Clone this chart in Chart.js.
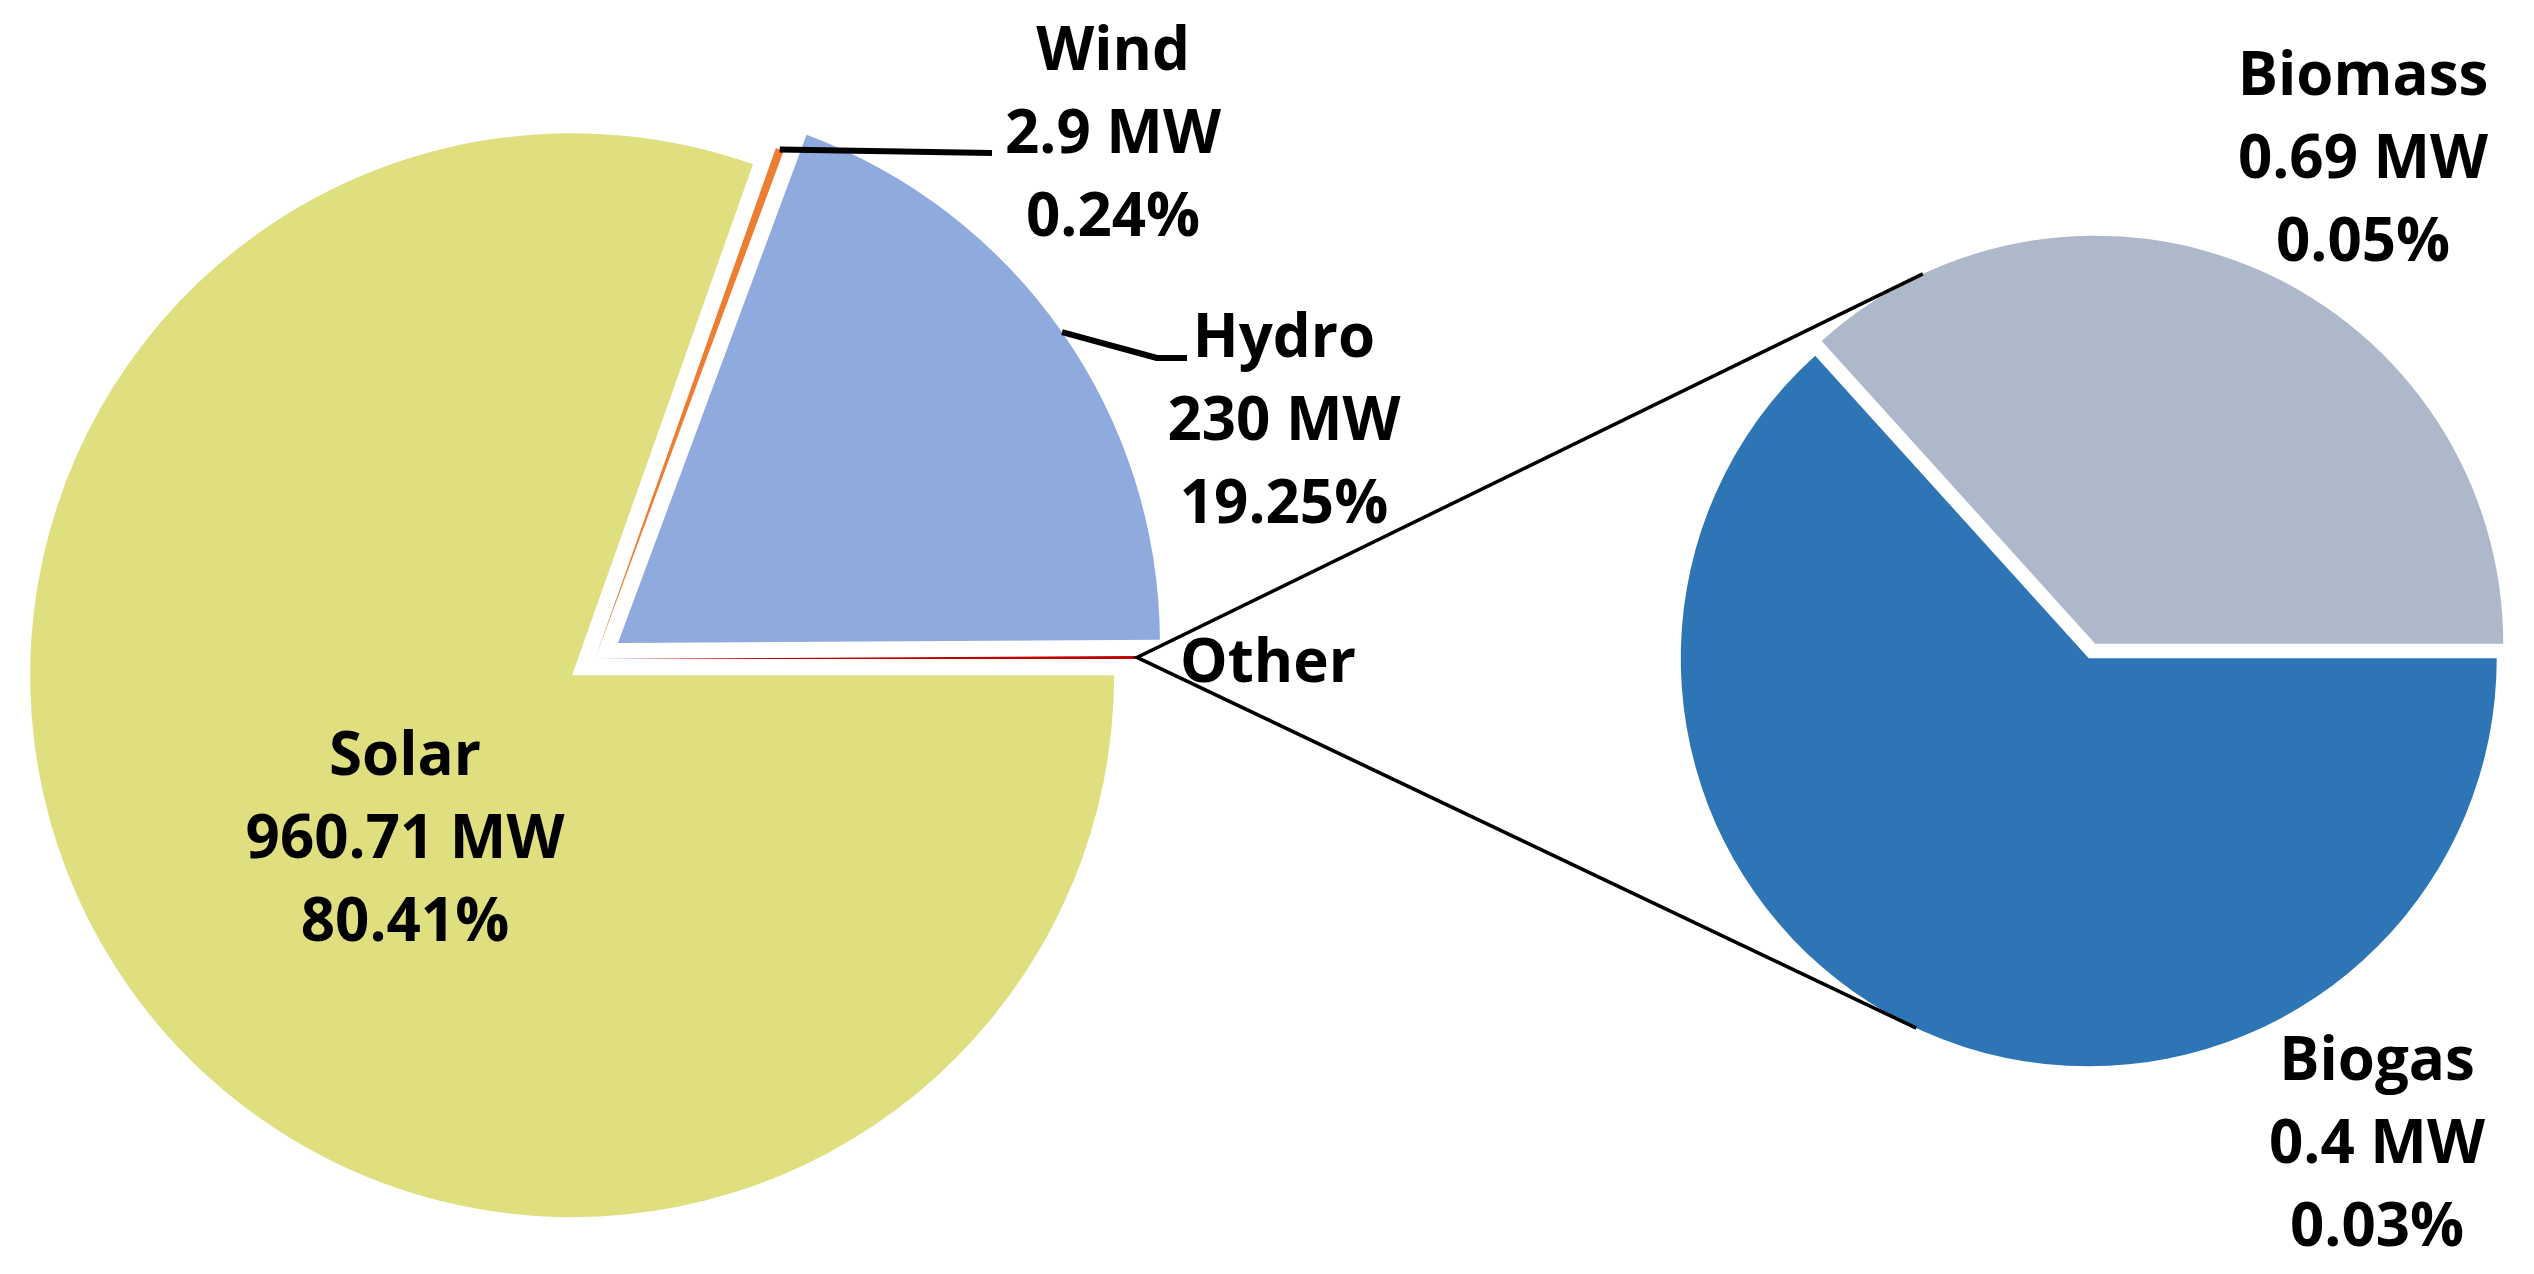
<!DOCTYPE html>
<html>
<head>
<meta charset="utf-8">
<script src="https://cdn.jsdelivr.net/npm/chart.js@4.4.1/dist/chart.umd.min.js"></script>
<style>
  html, body { margin: 0; padding: 0; background: #fff; overflow: hidden; }
  .layer { position: absolute; left: 0; top: 0; width: 2534px; height: 1274px; }
</style>
</head>
<body>
<div class="layer"><canvas id="mainPie" width="2534" height="1274"></canvas></div>
<div class="layer"><canvas id="otherPie" width="2534" height="1274"></canvas></div>
<script>
// capacity by source, MW
const mainNames = ['Solar', 'Wind', 'Hydro', 'Other'];
const mainValues = [960.71, 2.9, 230, 1.09];
const mainPercents = ['80.41%', '0.24%', '19.25%', ''];

// breakdown of "Other"
const otherNames = ['Biomass', 'Biogas'];
const otherValues = [0.69, 0.4];
const otherPercents = ['0.05%', '0.03%'];

const mainColors = ['#DFDF80', '#ED7D31', '#8FAADC', '#C00000'];
const otherColors = ['#2E75B6', '#ADB9CA'];

// how far each slice is pulled out, px
const mainExplode = [28, 0, 28, 0];
const otherExplode = [8, 8];

// label anchors: centre x, first baseline y
const mainLabelPos = [[405, 775], [1113, 70], [1284, 357], [1268, 682]];
const otherLabelPos = [[2363, 95], [2377, 1080]];
const lineStep = 83;
const labelFont = "bold 60px 'Open Sans', 'Noto Sans', sans-serif";

// leader line ends (from slice tip)
const leaderEnds = { 1: [[992, 153]], 2: [[1157, 358], [1187, 358]] };

const explodePlugin = {
    id: 'explode',
    beforeDatasetsDraw(chart) {
        const a = chart.chartArea;
        const cx = (a.left + a.right) / 2;
        const cy = (a.top + a.bottom) / 2;
        const pull = chart.config.options.plugins.explode.px;
        chart.getDatasetMeta(0).data.forEach((arc, i) => {
            const mid = (arc.startAngle + arc.endAngle) / 2;
            const d = pull[i] || 0;
            arc.x = cx + Math.cos(mid) * d;
            arc.y = cy + Math.sin(mid) * d;
        });
    }
};

function drawLabels(ctx, names, values, percents, pos) {
    ctx.save();
    ctx.font = labelFont;
    ctx.fillStyle = '#000';
    ctx.textAlign = 'center';
    ctx.textBaseline = 'alphabetic';
    names.forEach((name, i) => {
        const lines = [name];
        if (percents[i]) {
            lines.push(values[i] + ' MW', percents[i]);
        }
        lines.forEach((t, k) => ctx.fillText(t, pos[i][0], pos[i][1] + k * lineStep));
    });
    ctx.restore();
}

const mainLabelsPlugin = {
    id: 'mainLabels',
    afterDraw(chart) {
        const ctx = chart.ctx;
        const arcs = chart.getDatasetMeta(0).data;
        ctx.save();
        ctx.strokeStyle = '#000';
        ctx.lineWidth = 6;
        ctx.lineJoin = 'round';
        Object.keys(leaderEnds).forEach(k => {
            const arc = arcs[k];
            const mid = (arc.startAngle + arc.endAngle) / 2;
            ctx.beginPath();
            ctx.moveTo(arc.x + Math.cos(mid) * arc.outerRadius, arc.y + Math.sin(mid) * arc.outerRadius);
            leaderEnds[k].forEach(p => ctx.lineTo(p[0], p[1]));
            ctx.stroke();
        });
        ctx.restore();
        drawLabels(ctx, mainNames, mainValues, mainPercents, mainLabelPos);
    }
};

const mainChart = new Chart(document.getElementById('mainPie'), {
    type: 'pie',
    data: {
        labels: mainNames,
        datasets: [{
            data: mainValues,
            backgroundColor: mainColors,
            borderWidth: 0
        }]
    },
    options: {
        responsive: false,
        animation: false,
        events: [],
        rotation: 90,
        layout: { padding: { left: 53, right: 1397, top: 117, bottom: 73 } },
        plugins: {
            legend: { display: false },
            tooltip: { enabled: false },
            explode: { px: mainExplode }
        }
    },
    plugins: [explodePlugin, mainLabelsPlugin]
});

const otherLabelsPlugin = {
    id: 'otherLabels',
    afterDraw(chart) {
        const ctx = chart.ctx;
        // connector lines from the "Other" slice to the second pie
        const src = mainChart.getDatasetMeta(0).data[3];
        const sm = (src.startAngle + src.endAngle) / 2;
        const sx = src.x + Math.cos(sm) * src.outerRadius;
        const sy = src.y + Math.sin(sm) * src.outerRadius;
        const arcs = chart.getDatasetMeta(0).data;
        const spread = 65 * Math.PI / 180;
        const up = arcs[1], down = arcs[0];
        const ua = Math.PI + spread, da = Math.PI - spread;
        ctx.save();
        ctx.strokeStyle = '#000';
        ctx.lineWidth = 3.5;
        ctx.beginPath();
        ctx.moveTo(up.x + Math.cos(ua) * up.outerRadius, up.y + Math.sin(ua) * up.outerRadius);
        ctx.lineTo(sx, sy);
        ctx.lineTo(down.x + Math.cos(da) * down.outerRadius, down.y + Math.sin(da) * down.outerRadius);
        ctx.stroke();
        ctx.restore();
        drawLabels(ctx, otherNames, otherValues, otherPercents, otherLabelPos);
    }
};

const otherChart = new Chart(document.getElementById('otherPie'), {
    type: 'pie',
    data: {
        labels: otherNames,
        datasets: [{
            data: otherValues,
            backgroundColor: otherColors,
            borderWidth: 0
        }]
    },
    options: {
        responsive: false,
        animation: false,
        events: [],
        rotation: 90,
        layout: { padding: { left: 1684, right: 34, top: 243, bottom: 215 } },
        plugins: {
            legend: { display: false },
            tooltip: { enabled: false },
            explode: { px: otherExplode }
        }
    },
    plugins: [explodePlugin, otherLabelsPlugin]
});
</script>
</body>
</html>
